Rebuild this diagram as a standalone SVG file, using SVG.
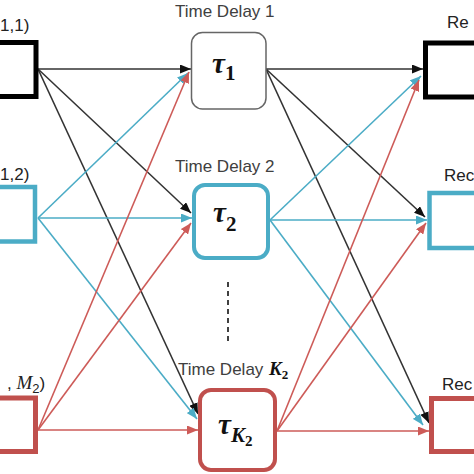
<svg xmlns="http://www.w3.org/2000/svg" width="474" height="474" viewBox="0 0 474 474">
<style>
.lbl{font-family:"Liberation Sans",Arial,sans-serif;font-size:17px;fill:#404040}
.side{font-family:"Liberation Sans",Arial,sans-serif;font-size:17px;fill:#222}
.tau{font-family:"Liberation Serif","Times New Roman",serif;font-weight:bold;fill:#111}
.lk{stroke:#333;stroke-width:1.6;fill:none;marker-end:url(#ak)}
.lb{stroke:#4bacc6;stroke-width:1.6;fill:none;marker-end:url(#ab)}
.lr{stroke:#cd5b58;stroke-width:1.6;fill:none;marker-end:url(#ar)}
</style>
<defs>
<marker id="ak" markerUnits="userSpaceOnUse" markerWidth="11" markerHeight="9" refX="11" refY="4.5" orient="auto"><path d="M0,0 L11,4.5 L0,9 z" fill="#111"/></marker>
<marker id="ab" markerUnits="userSpaceOnUse" markerWidth="11" markerHeight="9" refX="11" refY="4.5" orient="auto"><path d="M0,0 L11,4.5 L0,9 z" fill="#4bacc6"/></marker>
<marker id="ar" markerUnits="userSpaceOnUse" markerWidth="11" markerHeight="9" refX="11" refY="4.5" orient="auto"><path d="M0,0 L11,4.5 L0,9 z" fill="#cd5b58"/></marker>
</defs>
<rect width="474" height="474" fill="#fff"/>
<g id="connectors">
<line class="lk" x1="38" y1="69" x2="191" y2="69"/>
<line class="lk" x1="38" y1="69" x2="191" y2="213"/>
<line class="lk" x1="38" y1="69" x2="198" y2="414"/>
<line class="lb" x1="38" y1="218" x2="188" y2="73"/>
<line class="lb" x1="38" y1="218" x2="192" y2="218"/>
<line class="lb" x1="38" y1="218" x2="197" y2="419"/>
<line class="lr" x1="38" y1="430" x2="189" y2="72"/>
<line class="lr" x1="38" y1="430" x2="191" y2="223"/>
<line class="lr" x1="38" y1="430" x2="198" y2="430"/>
<line class="lk" x1="266" y1="69" x2="423" y2="69"/>
<line class="lk" x1="266" y1="69" x2="425" y2="217"/>
<line class="lk" x1="266" y1="69" x2="429" y2="423"/>
<line class="lb" x1="270" y1="220" x2="421" y2="76"/>
<line class="lb" x1="270" y1="220" x2="427" y2="220"/>
<line class="lb" x1="270" y1="220" x2="423" y2="425"/>
<line class="lr" x1="277" y1="431" x2="419" y2="80"/>
<line class="lr" x1="277" y1="431" x2="426" y2="223"/>
<line class="lr" x1="277" y1="431" x2="429" y2="431"/>
<line x1="228" y1="282" x2="228" y2="342" stroke="#404040" stroke-width="2" stroke-dasharray="5,4"/>
</g>
<g id="src1">
<rect x="-10" y="42.5" width="46" height="54" fill="#fff" stroke="#000" stroke-width="5"/>
<text class="side" x="0" y="31">1,1)</text>
</g>
<g id="src2">
<rect x="-10" y="187" width="45" height="54.5" fill="#fff" stroke="#4bacc6" stroke-width="4.5"/>
<text class="side" x="0" y="180">1,2)</text>
</g>
<g id="src3">
<rect x="-10" y="398" width="45.5" height="53.5" fill="#fff" stroke="#c0504d" stroke-width="5"/>
<text class="side" x="7" y="389">, <tspan font-family="Liberation Serif,serif" font-style="italic" font-size="19">M</tspan><tspan font-size="13" dy="4">2</tspan><tspan dy="-4">)</tspan></text>
</g>
<g id="delay1">
<text class="lbl" x="175" y="17">Time Delay 1</text>
<rect x="191.5" y="32.5" width="74.5" height="76.5" rx="11" fill="#fff" stroke="#666" stroke-width="1.5"/>
<text class="tau" x="212" y="73" font-size="29" font-style="italic">τ<tspan font-size="21" font-style="normal" dy="7">1</tspan></text>
</g>
<g id="delay2">
<text class="lbl" x="175" y="172">Time Delay 2</text>
<rect x="194" y="185" width="74" height="73" rx="11" fill="#fff" stroke="#4bacc6" stroke-width="4"/>
<text class="tau" x="213" y="222" font-size="29" font-style="italic">τ<tspan font-size="21" font-style="normal" dy="9">2</tspan></text>
</g>
<g id="delay3">
<text class="lbl" x="178" y="375">Time Delay</text>
<text class="tau" x="269" y="375" font-size="19" font-style="italic" fill="#333">K<tspan font-size="13" font-style="normal" dy="4">2</tspan></text>
<rect x="200" y="390" width="75" height="80" rx="11" fill="#fff" stroke="#c0504d" stroke-width="4"/>
<text class="tau" x="218" y="434" font-size="29" font-style="italic">τ<tspan font-size="21" dy="8">K</tspan><tspan font-size="15" font-style="normal" dy="4">2</tspan></text>
</g>
<g id="rx1">
<rect x="425.5" y="43" width="60" height="54" fill="#fff" stroke="#000" stroke-width="5"/>
<text class="side" x="447" y="28">Re</text>
</g>
<g id="rx2">
<rect x="429.5" y="193" width="60" height="55" fill="#fff" stroke="#4bacc6" stroke-width="4.5"/>
<text class="side" x="444" y="181" font-size="16">Rec</text>
</g>
<g id="rx3">
<rect x="431.5" y="398.5" width="60" height="53" fill="#fff" stroke="#c0504d" stroke-width="5"/>
<text class="side" x="442" y="390">Rec</text>
</g>
</svg>
